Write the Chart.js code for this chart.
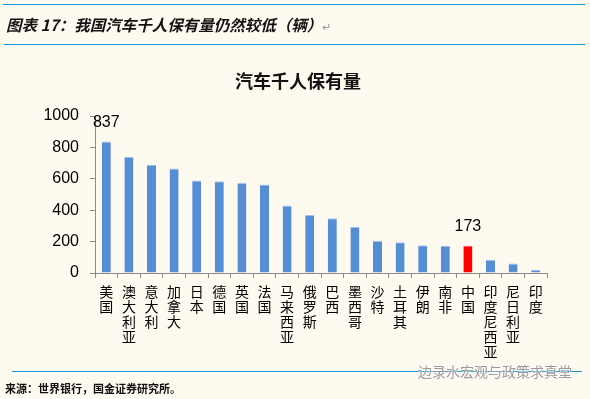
<!DOCTYPE html>
<html>
<head>
<meta charset="utf-8">
<script src="https://cdn.jsdelivr.net/npm/chart.js@4.4.1/dist/chart.umd.min.js"></script>
<style>
  html, body { margin: 0; padding: 0; background: #fefaf0; }
  #wrap { position: relative; width: 590px; height: 399px; overflow: hidden; background: #fefaf0; }
  #c { position: absolute; left: 0; top: 0; }
  .hline { position: absolute; height: 0; border-top: 1.5px solid #1296db; }
  .txt { position: absolute; white-space: nowrap; }
  #caption { left: 6px; top: 14px; font: italic bold 15.5px "Noto Sans CJK SC", sans-serif; color: #111; line-height: 20px; }
  #title { left: 0; width: 596px; text-align: center; top: 68px; font: bold 18px "Noto Sans CJK SC", sans-serif; color: #111; line-height: 24px; }
  #source { left: 5px; top: 380px; font: bold 11px "Noto Sans CJK SC", sans-serif; color: #111; line-height: 16px; }
  #wm { left: 418px; top: 362px; font: 14px "Noto Sans CJK SC", sans-serif; color: #9a9a9a; line-height: 18px; text-shadow: 0 0 2px #fff, 0 0 2px #fff; }
  .mark { color: #999; font: 11px "DejaVu Sans", sans-serif; }
</style>
</head>
<body>
<div id="wrap">
  <canvas id="c" width="590" height="399"></canvas>
  <div class="hline" style="left:3px; width:582px; top:4px;"></div>
  <div class="hline" style="left:4px; width:581px; top:44px;"></div>
  <div class="hline" style="left:12px; width:570px; top:371px;"></div>
  <div id="caption" class="txt">图表 17：我国汽车千人保有量仍然较低（辆）<span class="mark">↵</span></div>
  <div id="title" class="txt">汽车千人保有量</div>
  <div id="wm" class="txt">边录水宏观与政策求真堂</div>
  <div id="source" class="txt">来源：世界银行，国金证券研究所。</div>
</div>
<script>
// ---- data ----
const categories = ["美国","澳大利亚","意大利","加拿大","日本","德国","英国","法国","马来西亚","俄罗斯","巴西","墨西哥","沙特","土耳其","伊朗","南非","中国","印度尼西亚","尼日利亚","印度"];
const values = [837, 740, 690, 665, 589, 584, 574, 563, 430, 369, 348, 293, 206, 196, 176, 173, 173, 84, 61, 21];
const highlightIndex = [16];
const labelIndex = [0, 16];
const yTicks = [0, 200, 400, 600, 800, 1000];

const barColors = values.map((v, i) => highlightIndex.includes(i) ? '#ff0000' : '#558ed5');
const barBorders = values.map((v, i) => highlightIndex.includes(i) ? '#ff5a5a' : '#a3c1ea');

const valueLabels = {
  id: 'valueLabels',
  afterDatasetsDraw(chart) {
    const ctx = chart.ctx;
    const meta = chart.getDatasetMeta(0);
    ctx.save();
    ctx.font = '16px "Liberation Sans", Arial, sans-serif';
    ctx.fillStyle = '#000';
    ctx.textAlign = 'center';
    ctx.textBaseline = 'middle';
    labelIndex.forEach(i => {
      const el = meta.data[i];
      ctx.fillText(String(values[i]), el.x, el.y - 19);
    });
    ctx.restore();
  }
};

new Chart(document.getElementById('c'), {
  type: 'bar',
  data: {
    labels: categories.map(s => s.split('')),
    datasets: [{
      data: values,
      backgroundColor: barColors,
      borderColor: barBorders,
      borderWidth: {top: 1, left: 0, right: 0, bottom: 0},
      borderSkipped: false,
      barPercentage: 0.4,
      categoryPercentage: 1.0
    }]
  },
  options: {
    responsive: false,
    animation: false,
    devicePixelRatio: 1,
    layout: { padding: { left: 0, right: 43, top: 116, bottom: 0 } },
    plugins: { legend: { display: false }, title: { display: false }, tooltip: { enabled: false } },
    scales: {
      x: {
        offset: true,
        grid: { display: true, drawOnChartArea: false, drawTicks: true, tickLength: 5, color: '#8c8c8c', offset: true },
        border: { display: true, color: '#8c8c8c', width: 1 },
        ticks: {
          autoSkip: false, maxRotation: 0, minRotation: 0, padding: 6,
          color: '#000',
          font: { family: '"Noto Sans CJK SC", sans-serif', size: 14, lineHeight: '15px' }
        },
        afterFit(scale) { scale.height = 126; }
      },
      y: {
        min: 0, max: 1000,
        afterBuildTicks(scale) { scale.ticks = yTicks.map(v => ({ value: v })); },
        grid: { display: true, drawOnChartArea: false, drawTicks: true, tickLength: 5, color: '#8c8c8c' },
        border: { display: true, color: '#8c8c8c', width: 1 },
        ticks: {
          padding: 11, color: '#000',
          callback: (v) => String(v),
          font: { family: '"Liberation Sans", Arial, sans-serif', size: 16 }
        },
        afterFit(scale) { scale.width = 95; }
      }
    }
  },
  plugins: [valueLabels]
});
</script>
</body>
</html>
